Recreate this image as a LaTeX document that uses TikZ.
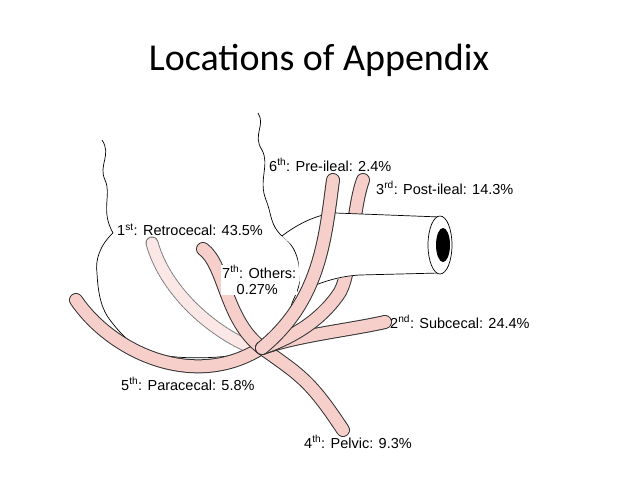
\documentclass[tikz,border=0pt]{standalone}
\usepackage{fontspec}
\setmainfont{Liberation Sans}
\newfontfamily\titlefont{Carlito}
\begin{document}
\begin{tikzpicture}[x=1pt,y=-1pt,
  tubeout/.style={line width=14pt,line cap=round,draw=black!80},
  tubein/.style={line width=12pt,line cap=round,draw=apink},
  lbl/.style={anchor=west,inner sep=1pt,font=\fontsize{14.5}{16}\selectfont},
  wall/.style={draw=black,line width=0.7pt}]
\definecolor{apink}{RGB}{246,206,202}
\definecolor{apale}{RGB}{251,232,230}
\useasboundingbox (0,0) rectangle (638,478);
\node (title) at (319,60) {\titlefont\fontsize{38}{42}\selectfont Locations of Appendix};
% cecum walls
\draw[wall] (102,140) .. controls (112,155) and (98,165) .. (105,180) .. controls (112,195) and (100,210) .. (113,233)
  .. controls (100,245) and (95,260) .. (97,273) .. controls (98,295) and (102,310) .. (110,320)
  .. controls (125,340) and (140,352) .. (160,355) .. controls (190,360) and (225,358) .. (255,352);
\draw[wall] (258,113) .. controls (266,125) and (252,135) .. (262,150) .. controls (270,165) and (258,180) .. (266,200)
  .. controls (272,215) and (270,225) .. (282,236) .. controls (295,245) and (300,260) .. (300,280)
  .. controls (298,295) and (290,302) .. (291,310) .. controls (290,320) and (285,330) .. (262,347);
% retrocecal dashed
\draw[line width=13pt,line cap=round,draw=black!50,dash pattern=on 2pt off 2pt] (152,243) .. controls (165,290) and (210,330) .. (250,347);
\draw[line width=11pt,line cap=round,draw=apale] (152,243) .. controls (165,290) and (210,330) .. (250,347);
% paracecal
\draw[tubeout] (76,300) .. controls (110,350) and (190,390) .. (258,350);
\draw[tubein] (76,300) .. controls (110,350) and (190,390) .. (258,350);
% others / pelvic
\draw[tubeout] (203,249) .. controls (225,265) and (225,320) .. (262,348) .. controls (300,375) and (310,380) .. (343,430);
\draw[tubein] (203,249) .. controls (225,265) and (225,320) .. (262,348) .. controls (300,375) and (310,380) .. (343,430);
% subcecal
\draw[tubeout] (262,348) .. controls (300,335) and (350,330) .. (385,322);
\draw[tubein] (262,348) .. controls (300,335) and (350,330) .. (385,322);
% post-ileal
\draw[tubeout] (363,180) .. controls (352,210) and (352,270) .. (340,292) .. controls (325,315) and (300,335) .. (262,348);
\draw[tubein] (363,180) .. controls (352,210) and (352,270) .. (340,292) .. controls (325,315) and (300,335) .. (262,348);
% ileum
\fill[white] (282,236) .. controls (300,222) and (320,214) .. (335,213) -- (440,217) -- (440,273) -- (360,275) .. controls (340,277) and (325,282) .. (300,292) -- (298,250) -- cycle;
\draw[wall] (282,236) .. controls (300,222) and (320,214) .. (335,213) -- (440,217);
\draw[wall] (300,292) .. controls (320,282) and (340,276) .. (360,275) -- (440,273);
\draw[wall,fill=white] (440,245) ellipse [x radius=12,y radius=29];
\fill[black] (443,245) ellipse [x radius=7,y radius=17];
% pre-ileal
\draw[tubeout] (333,180) .. controls (325,240) and (320,300) .. (262,348);
\draw[tubein] (333,180) .. controls (325,240) and (320,300) .. (262,348);
% labels
\node[lbl] (l6) at (268,165) {6\textsuperscript{th}: Pre-ileal: 2.4\%};
\node[lbl] (l3) at (375,188) {3\textsuperscript{rd}: Post-ileal: 14.3\%};
\node[lbl] (l1) at (116,230) {1\textsuperscript{st}: Retrocecal: 43.5\%};
\node[lbl,fill=white,align=left] (l7) at (221,280) {7\textsuperscript{th}: Others:\\\hspace*{1em}0.27\%};
\node[lbl] (l2) at (389,322) {2\textsuperscript{nd}: Subcecal: 24.4\%};
\node[lbl] (l5) at (120,384) {5\textsuperscript{th}: Paracecal: 5.8\%};
\node[lbl] (l4) at (303,442) {4\textsuperscript{th}: Pelvic: 9.3\%};
\end{tikzpicture}
\end{document}
